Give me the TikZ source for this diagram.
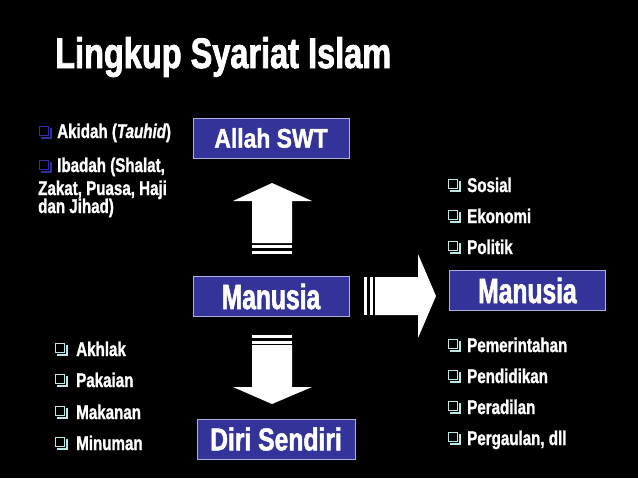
\documentclass[tikz,border=0pt]{standalone}
\usepackage{fontspec}
\setmainfont{Liberation Sans}
\newfontfamily\lf[FakeStretch=0.76,FakeBold=1.2]{Liberation Sans}
\newfontfamily\tf[FakeStretch=0.76,FakeBold=1.8]{Liberation Sans}
\newfontfamily\mf[FakeStretch=0.70,FakeBold=1.6]{Liberation Sans}
\newfontfamily\df[FakeStretch=0.78,FakeBold=1.6]{Liberation Sans}
\newfontfamily\af[FakeStretch=0.85,FakeBold=1.4]{Liberation Sans}
\definecolor{boxblue}{RGB}{51,51,153}
\definecolor{boxline}{RGB}{175,175,220}
\definecolor{cbcyan}{RGB}{185,232,232}
\definecolor{cbblue}{RGB}{48,48,165}
\newcommand{\chkbox}[4]{%
  \fill[#4] (#1+2,#2+2) rectangle (#1+12.5,#2+12.5);
  \fill[black] (#1,#2) rectangle (#1+10.5,#2+10.5);
  \draw[#3,line width=0.9pt] (#1+0.6,#2+0.6) rectangle (#1+9.9,#2+9.9);}
\begin{document}
\begin{tikzpicture}[x=0.3mm,y=-0.3mm,
  boxnode/.style={draw=boxline,line width=0.7pt,fill=boxblue,text=white,inner sep=0pt,
     minimum width=46.8mm,minimum height=12mm},
  listtext/.style={anchor=base west,text=white,inner sep=0pt,
     font=\lf\bfseries\fontsize{17}{18}\selectfont},
  arrowshape/.style={fill=white}]
\fill[black] (0,0) rectangle (638,478);
\useasboundingbox (0,0) rectangle (638,478);

% title
\node[anchor=base west,text=white,inner sep=0pt,font=\tf\bfseries\fontsize{36.5}{40}\selectfont]
  (title) at (55,68) {Lingkup Syariat Islam};

% boxes
\node[boxnode,font=\af\bfseries\fontsize{23}{26}\selectfont] (allah) at (271,138) {Allah SWT};
\node[boxnode,font=\mf\bfseries\fontsize{30}{32}\selectfont] (manL) at (271,296.5) {Manusia};
\node[boxnode,font=\mf\bfseries\fontsize{30}{32}\selectfont] (manR) at (527.5,290.5) {Manusia};
\node[boxnode,minimum width=47.4mm,font=\df\bfseries\fontsize{27}{30}\selectfont] (diri) at (276,439) {Diri Sendiri};

% up arrow
\fill[arrowshape] (272,183) -- (312,201) -- (292,201) -- (292,243) -- (252,243) -- (252,201) -- (233,201) -- cycle;
\fill[arrowshape] (252,244.5) rectangle (292,248);
\fill[arrowshape] (252,251) rectangle (292,254);
% down arrow
\fill[arrowshape] (252,335) rectangle (292,338);
\fill[arrowshape] (252,340.5) rectangle (292,343.5);
\fill[arrowshape] (252,345) -- (292,345) -- (292,387) -- (312,387) -- (272,404) -- (233,387) -- (252,387) -- cycle;
% right arrow
\fill[arrowshape] (364,277) rectangle (367,315);
\fill[arrowshape] (369.5,277) rectangle (372.5,315);
\fill[arrowshape] (375,277) -- (418,277) -- (418,254) -- (436,296) -- (418,338) -- (418,315) -- (375,315) -- cycle;

% top-left list
\chkbox{39}{126}{cbblue}{cbblue}
\node[listtext] (akidah) at (57,138) {Akidah ({\itshape Tauhid})};
\chkbox{39}{160}{cbblue}{cbblue}
\node[listtext] (ibadah1) at (57,172) {Ibadah (Shalat,};
\node[listtext] (ibadah2) at (38,195) {Zakat, Puasa, Haji};
\node[listtext] (ibadah3) at (38,213) {dan Jihad)};

% bottom-left list
\chkbox{55}{343}{cbcyan}{cbcyan}
\node[listtext] (akhlak) at (76,356) {Akhlak};
\chkbox{55}{374}{cbcyan}{cbcyan}
\node[listtext] (pakaian) at (76,387) {Pakaian};
\chkbox{55}{406}{cbcyan}{cbcyan}
\node[listtext] (makanan) at (76,419) {Makanan};
\chkbox{55}{437}{cbcyan}{cbcyan}
\node[listtext] (minuman) at (76,450) {Minuman};

% right top list
\chkbox{448}{179}{cbcyan}{cbcyan}
\node[listtext] (sosial) at (467,192) {Sosial};
\chkbox{448}{210}{cbcyan}{cbcyan}
\node[listtext] (ekonomi) at (467,223) {Ekonomi};
\chkbox{448}{241}{cbcyan}{cbcyan}
\node[listtext] (politik) at (467,254) {Politik};

% right bottom list
\chkbox{448}{339}{cbcyan}{cbcyan}
\node[listtext] (pemerintahan) at (467,352) {Pemerintahan};
\chkbox{448}{370}{cbcyan}{cbcyan}
\node[listtext] (pendidikan) at (467,383) {Pendidikan};
\chkbox{448}{401}{cbcyan}{cbcyan}
\node[listtext] (peradilan) at (467,414) {Peradilan};
\chkbox{448}{432}{cbcyan}{cbcyan}
\node[listtext] (pergaulan) at (467,445) {Pergaulan, dll};
\end{tikzpicture}
\end{document}
